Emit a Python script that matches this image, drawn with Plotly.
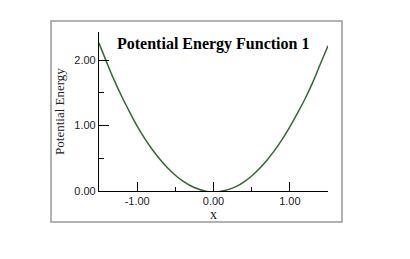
import plotly.graph_objects as go

x_vals = [-1.5, -1.4, -1.3, -1.2, -1.1, -1.0, -0.9, -0.8, -0.7, -0.6, -0.5, -0.4, -0.3, -0.2, -0.1,
          0.0, 0.1, 0.2, 0.3, 0.4, 0.5, 0.6, 0.7, 0.8, 0.9, 1.0, 1.1, 1.2, 1.3, 1.4, 1.5]
energy = [2.26, 1.97, 1.69, 1.44, 1.21, 0.99, 0.80, 0.63, 0.48, 0.35, 0.24, 0.15, 0.08, 0.03, -0.005,
          -0.02, -0.005, 0.025, 0.07, 0.14, 0.23, 0.34, 0.47, 0.62, 0.79, 0.98, 1.19, 1.41, 1.66, 1.94, 2.22]

x_tickvals = [-1.0, 0.0, 1.0]
x_ticktext = ["-1.00", "0.00", "1.00"]
y_tickvals = [0.0, 1.0, 2.0]
y_ticktext = ["0.00", "1.00", "2.00"]

fig = go.Figure()
fig.add_trace(go.Scatter(x=x_vals, y=energy, mode="lines", line_shape="spline",
                         line=dict(color="#2f6a2f", width=1.5), showlegend=False,
                         cliponaxis=True))

L, R, T, B = 99, 82, 32, 68
W, H = 410, 259
pw, ph = W - L - R, H - T - B

fig.update_layout(
    width=W, height=H,
    margin=dict(l=L, r=R, t=T, b=B),
    paper_bgcolor="white", plot_bgcolor="white",
    xaxis=dict(range=[-1.5, 1.5], showgrid=False, zeroline=False, showline=True,
               linecolor="black", linewidth=1.2, ticks="inside", ticklen=9, tickwidth=1.2,
               tickcolor="black", tickvals=x_tickvals, ticktext=x_ticktext,
               tickfont=dict(family="Liberation Sans", size=11, color="#222"),
               minor=dict(ticks="inside", ticklen=4, dtick=0.5, tick0=0, tickcolor="black", tickwidth=1.2),
               title=dict(text="x", font=dict(family="Liberation Serif", size=14, color="#222"), standoff=0)),
    yaxis=dict(range=[0, 2.43], showgrid=False, zeroline=False, showline=True,
               linecolor="black", linewidth=1.2, ticks="inside", ticklen=10, tickwidth=1.2,
               tickcolor="black", tickvals=y_tickvals, ticktext=y_ticktext,
               tickfont=dict(family="Liberation Sans", size=11, color="#222"),
               minor=dict(ticks="inside", ticklen=5, dtick=0.5, tick0=0, tickcolor="black", tickwidth=1.2),
               title=dict(text="Potential Energy", font=dict(family="Liberation Serif", size=13, color="#222"), standoff=6)),
    shapes=[dict(type="rect", xref="paper", yref="paper",
                 x0=(51 - L) / pw, x1=(342 - L) / pw,
                 y0=(H - B - 222) / ph, y1=(H - B - 21) / ph,
                 line=dict(color="#999", width=1.5), fillcolor="rgba(0,0,0,0)", layer="below")],
    annotations=[dict(text="<b>Potential Energy Function 1</b>", xref="paper", yref="paper",
                      x=(213 - L) / pw, y=(H - B - 44) / ph, showarrow=False,
                      xanchor="center", yanchor="middle",
                      font=dict(family="Liberation Serif", size=16, color="black"))],
)

fig.write_html("out.html")
